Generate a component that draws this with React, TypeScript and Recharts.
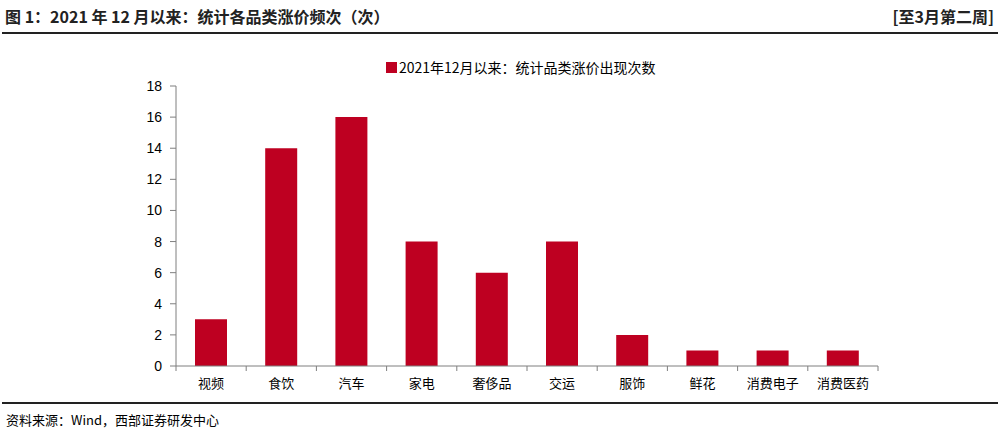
import React from "react";
import { BarChart, Bar, XAxis, YAxis } from "recharts";

const categories = ["视频", "食饮", "汽车", "家电", "奢侈品", "交运", "服饰", "鲜花", "消费电子", "消费医药"];
const counts = [3, 14, 16, 8, 6, 8, 2, 1, 1, 1];
const yTicks = [0, 2, 4, 6, 8, 10, 12, 14, 16, 18];

const seriesName = "2021年12月以来：统计品类涨价出现次数";
const barColor = "#BE0021";
const axisColor = "#7f7f7f";
const cjkFont = "'Noto Sans CJK SC', 'Liberation Sans', sans-serif";

const chartWidth = 1000;
const margin = { top: 86, right: 122, left: 0, bottom: 40 };
const yAxisWidth = 176;
const bandWidth = (chartWidth - margin.left - margin.right - yAxisWidth) / categories.length;

const chartData = categories.map((name, i) => ({ name, count: counts[i] }));

// 类别标签 + 类别之间的分隔刻度
const CategoryTick = (props: any) => {
  const { x, y, payload, index } = props;
  const half = bandWidth / 2;
  return (
    <g>
      <line x1={x - half} x2={x - half} y1={y} y2={y + 5} stroke={axisColor} />
      {index === categories.length - 1 && (
        <line x1={x + half} x2={x + half} y1={y} y2={y + 5} stroke={axisColor} />
      )}
      <text
        x={x}
        y={y + 22}
        textAnchor="middle"
        fill="#000"
        fontSize={13}
        fontFamily={cjkFont}
      >
        {payload.value}
      </text>
    </g>
  );
};

const App: React.FC = () => {
  return (
    <div style={{ position: "absolute", left: 0, top: 0, width: 1000, height: 436, background: "#fff" }}>
      <div
        style={{
          position: "absolute",
          left: 5,
          top: 4,
          fontFamily: cjkFont,
          fontSize: 16,
          fontWeight: "bold",
          color: "#222",
        }}
      >
        图 1：2021 年 12 月以来：统计各品类涨价频次（次）
      </div>
      <div
        style={{
          position: "absolute",
          right: 6,
          top: 4,
          fontFamily: cjkFont,
          fontSize: 16,
          fontWeight: "bold",
          color: "#222",
        }}
      >
        [至3月第二周]
      </div>
      <div style={{ position: "absolute", left: 2, top: 32, width: 996, height: 2, background: "#222" }} />

      {/* 图例 */}
      <div
        style={{
          position: "absolute",
          left: 386,
          top: 57,
          display: "flex",
          alignItems: "center",
          fontFamily: cjkFont,
          fontSize: 14,
          color: "#000",
        }}
      >
        <span style={{ width: 11, height: 11, background: barColor, display: "inline-block", marginRight: 2 }} />
        <span>{seriesName}</span>
      </div>

      <div style={{ position: "absolute", left: 0, top: 0 }}>
        <BarChart
          width={chartWidth}
          height={436}
          data={chartData}
          margin={margin}
          barCategoryGap={0}
        >
          <XAxis
            dataKey="name"
            stroke={axisColor}
            tickLine={false}
            tickSize={0}
            tickMargin={0}
            tick={<CategoryTick />}
            interval={0}
            height={30}
          />
          <YAxis
            width={yAxisWidth}
            domain={[0, 18]}
            ticks={yTicks}
            stroke={axisColor}
            tickSize={6}
            tickMargin={8}
            tick={{ fill: "#000", fontSize: 14, fontFamily: "'Liberation Sans', Arial, sans-serif" }}
          />
          <Bar
            dataKey="count"
            name={seriesName}
            fill={barColor}
            barSize={32}
            isAnimationActive={false}
          />
        </BarChart>
      </div>

      <div style={{ position: "absolute", left: 2, top: 402, width: 996, height: 2, background: "#222" }} />
      <div
        style={{
          position: "absolute",
          left: 6,
          top: 410,
          fontFamily: cjkFont,
          fontSize: 13,
          color: "#000",
        }}
      >
        资料来源：Wind，西部证券研发中心
      </div>
    </div>
  );
};

export default App;
